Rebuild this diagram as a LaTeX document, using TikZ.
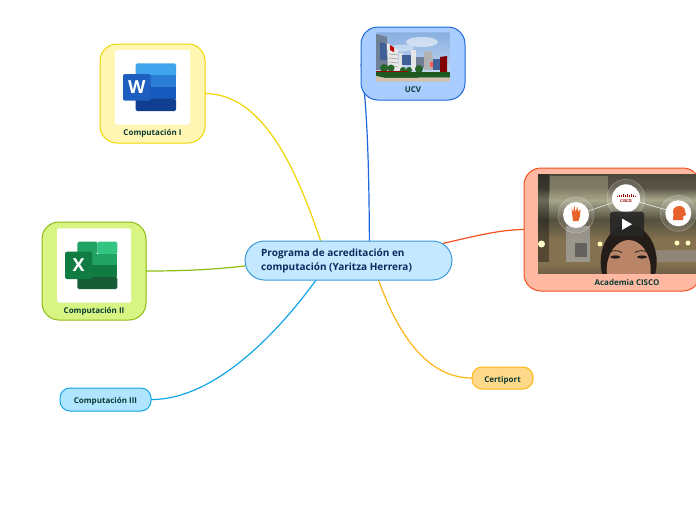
\documentclass[tikz,border=0pt]{standalone}
\usepackage{fontspec}
\setmainfont{Open Sans}
\usetikzlibrary{backgrounds}

\definecolor{rootfill}{HTML}{C3E8FF}
\definecolor{rootline}{HTML}{3C9AD6}
\definecolor{rootink}{HTML}{0D2A5E}
\definecolor{leafink}{HTML}{0B3B34}
\definecolor{wordfill}{HTML}{FFF6B3}
\definecolor{wordline}{HTML}{F0D400}
\definecolor{ucvfill}{HTML}{A9CDFF}
\definecolor{ucvline}{HTML}{1F68DC}
\definecolor{ciscofill}{HTML}{FFB9A3}
\definecolor{ciscoline}{HTML}{F4511E}
\definecolor{excelfill}{HTML}{D8F584}
\definecolor{excelline}{HTML}{8DBB10}
\definecolor{thirdfill}{HTML}{B0E5FF}
\definecolor{thirdline}{HTML}{10A5E8}
\definecolor{certfill}{HTML}{FFD98A}
\definecolor{certline}{HTML}{FDB515}
\definecolor{spot}{HTML}{E8622B}
\definecolor{skin}{HTML}{B98468}
\definecolor{hair}{HTML}{231C18}
\definecolor{vidtop}{HTML}{3F3A30}
\definecolor{vidband}{HTML}{5A5547}
\definecolor{vidlight}{HTML}{A8A78C}
\definecolor{vidmid}{HTML}{54503F}
\definecolor{vidwarm}{HTML}{84714F}
\definecolor{viddark}{HTML}{3E3A30}
\definecolor{vidfloor}{HTML}{66665C}
\definecolor{skytop}{HTML}{6F9CD6}
\definecolor{skymid}{HTML}{A9C6EA}
\definecolor{skylow}{HTML}{E4ECF6}
\definecolor{glass}{HTML}{3F5F96}
\definecolor{tower}{HTML}{6E7F96}

\pgfdeclareverticalshading{videobg}{100bp}{
  color(0bp)=(vidfloor); color(11bp)=(vidfloor); color(14bp)=(viddark);
  color(30bp)=(vidwarm); color(42bp)=(vidwarm); color(52bp)=(vidmid);
  color(62bp)=(vidlight); color(68bp)=(vidband); color(82bp)=(vidtop);
  color(100bp)=(vidtop)}
\pgfdeclareverticalshading{ucvsky}{100bp}{
  color(0bp)=(skylow); color(45bp)=(skymid); color(100bp)=(skytop)}

\tikzset{
  box/.style={draw, line width=1pt, inner sep=0pt, outer sep=0pt, rounded corners=17pt},
  leaflabel/.style={font=\bfseries\fontsize{8}{10}\selectfont, text=leafink, inner sep=0pt},
  link/.style={line width=1.2pt},
  blurlight/.style={circle, inner sep=0pt, fill=#1},
}

\begin{document}
\begin{tikzpicture}[x=1pt, y=-1pt]
    \useasboundingbox (0,0) rectangle (696,520);

    % boxes
    \node[box, fill=rootfill, draw=rootline, rounded corners=19.5pt,
      minimum width=207pt, minimum height=39pt] (root) at (348.5,260.5) {};
    \node[box, fill=wordfill, draw=wordline, minimum width=105pt, minimum height=99pt] (word) at (152.5,93.5) {};
    \node[box, fill=ucvfill, draw=ucvline, minimum width=104pt, minimum height=73pt] (ucv) at (413,63.5) {};
    \node[box, fill=ciscofill, draw=ciscoline, minimum width=176pt, minimum height=123pt] (cisco) at (612,229.5) {};
    \node[box, fill=excelfill, draw=excelline, minimum width=104pt, minimum height=98pt] (excel) at (94,271) {};
    \node[box, fill=thirdfill, draw=thirdline, rounded corners=10pt,
      minimum width=91pt, minimum height=23pt] (third) at (105.5,399.5) {};
    \node[box, fill=certfill, draw=certline, rounded corners=10pt,
      minimum width=61pt, minimum height=22pt] (cert) at (502.5,378) {};

    % labels
    \node[font=\bfseries\fontsize{10}{13.5}\selectfont, text=rootink, align=left, anchor=west, inner sep=0pt] (roottext) at (261,261)
      {Programa de acreditación en\\computación (Yaritza Herrera)};
    \node[leaflabel] (wordtext) at (152.5,133) {Computación I};
    \node[leaflabel] (ucvtext) at (413,90) {UCV};
    \node[leaflabel] (ciscotext) at (627,282) {Academia CISCO};
    \node[leaflabel] (exceltext) at (94,311) {Computación II};
    \node[leaflabel] (thirdtext) at (105.5,401) {Computación III};
    \node[leaflabel] (certtext) at (502.5,380) {Certiport};

    % connectors
    \begin{scope}[on background layer]
      \draw[link, draw=wordline] (root.145.6) .. controls (295,165) and (262,94) .. (word.east);
      \draw[link, draw=ucvline] (root.43.6) .. controls (369,180) and (368,110) .. (ucv.west);
      \draw[link, draw=ciscoline] (root.center) .. controls (440,249) and (480,230) .. (cisco.west);
      \draw[link, draw=excelline] (root.183) .. controls (210,270) and (180,271) .. (excel.east);
      \draw[link, draw=thirdline] (root.211) .. controls (265,350) and (205,400) .. (third.east);
      \draw[link, draw=certline] (root.-33.5) .. controls (400,340) and (430,378) .. (cert.west);
    \end{scope}

    % word icon
    \fill[white, rounded corners=2pt] (115,50) rectangle (190,124.5);
    \fill[fill={rgb,255:red,65;green,165;blue,238}, rounded corners=1.5pt] (135.7,63.3) rectangle (176,76);
    \fill[fill={rgb,255:red,43;green,124;blue,211}] (135.7,75.3) rectangle (176,87.2);
    \fill[fill={rgb,255:red,24;green,90;blue,189}] (135.7,87.2) rectangle (176,99.1);
    \fill[fill={rgb,255:red,16;green,63;blue,145}, rounded corners=1.5pt] (135.7,98.5) rectangle (176,111);
    \fill[fill={rgb,255:red,30;green,94;blue,190}, rounded corners=2pt] (123,74) rectangle (150.7,100.7);
    \node[font=\bfseries\fontsize{18}{18}\selectfont, text=white, inner sep=0pt] (wordmark) at (136.8,87.3) {W};

    % excel icon
    \fill[white, rounded corners=2pt] (57,228.3) rectangle (131,302.5);
    \fill[fill={rgb,255:red,33;green,163;blue,102}, rounded corners=1.5pt] (77.3,241.7) rectangle (97.5,254);
    \fill[fill={rgb,255:red,51;green,196;blue,129}, rounded corners=1.5pt] (97.3,241.7) rectangle (117.3,254);
    \fill[fill={rgb,255:red,33;green,163;blue,102}] (77.3,253.5) rectangle (117.3,265.3);
    \fill[fill={rgb,255:red,16;green,124;blue,65}] (77.3,265.3) rectangle (117.3,277.2);
    \fill[fill={rgb,255:red,24;green,92;blue,55}, rounded corners=1.5pt] (77.3,277) rectangle (117.3,289);
    \fill[fill={rgb,255:red,16;green,124;blue,65}, rounded corners=2pt] (65,251.7) rectangle (92.3,279);
    \node[font=\bfseries\fontsize{18}{18}\selectfont, text=white, inner sep=0pt] (excelmark) at (78.6,265) {X};

    % ucv photo
    \begin{scope}
      \clip[rounded corners=1pt] (376,32.3) rectangle (450,81.7);
      \shade[shading=ucvsky] (376,32.3) rectangle (450,72);
      \fill[white, opacity=.55] (422,42) ellipse (16pt and 5pt);
      \fill[white, opacity=.4] (402,48) ellipse (12pt and 3.5pt);
      % left towers
      \fill[tower] (376,34) -- (387,37) -- (389,70) -- (376,70) -- cycle;
      \fill[glass] (380,42) -- (386,44) -- (387,60) -- (380,60) -- cycle;
      \fill[white!82!gray] (387,43) -- (398,50) -- (399,70) -- (388,70) -- cycle;
      \fill[red!75!black] (390,45) -- (394,47.5) -- (394,52) -- (390,50) -- cycle;
      \foreach \by in {54,58,62,66}
        \draw[gray, line width=.4pt] (389,\by) -- (398,\by+1);
      \fill[white!78!gray] (399,53) rectangle (403,70);
      \fill[glass] (402,55) rectangle (411,65);
      \fill[white!80!gray] (411,50) rectangle (416,70);
      % right towers
      \fill[tower] (416,57) rectangle (424,68);
      \fill[gray!60] (424,52) -- (432,51) -- (434,70) -- (424,70) -- cycle;
      \fill[red!65!white] (430,62) rectangle (433,67);
      \fill[glass] (433,59) rectangle (440,70);
      \fill[red!50!black] (440,57) -- (447,56) -- (447,72) -- (440,72) -- cycle;
      \fill[green!35!black!70!gray] (384,68) circle (4pt) (391,68) circle (3.5pt) (403,70) circle (3pt) (409,70) circle (3pt) (419,69) circle (4pt);
      \fill[red!60!black] (376,71) rectangle (408,72.8);
      \fill[green!30!black!75!gray] (376,72) -- (450,72) -- (450,77.5) -- (385,78) -- (376,76) -- cycle;
      \fill[orange!30!gray!50!white] (376,76) -- (385,78) -- (450,77.5) -- (450,81.7) -- (376,81.7) -- cycle;
    \end{scope}

    % cisco video
    \begin{scope}
      \clip (538,174) rectangle (696,273.3);
      \shade[shading=videobg] (538,174) rectangle (696,273.3);
      \fill[gray!80!yellow, opacity=.5] (550,176) rectangle (608,198);
      \fill[black, opacity=.35] (538,174) rectangle (549,262);
      \fill[gray!70!white, opacity=.7] (566,226) rectangle (590,262);
      \fill[black!70, opacity=.7] (575,243) rectangle (587,257);
      \fill[black!40, opacity=.5] (655,250) rectangle (696,262);
      \node[blurlight=white!80!yellow, minimum size=7pt] (glowa) at (541.5,244) {};
      \node[blurlight=yellow!30!white, minimum size=5pt] (glowb) at (600,244) {};
      \node[blurlight=yellow!25!white, minimum size=5pt] (glowc) at (677,243) {};
      \node[blurlight=yellow!25!white, minimum size=5pt] (glowd) at (688,243) {};
      % links between the circles
      \draw[white!85!gray, line width=.6pt] (576,215) -- (626,198.3) -- (678.3,213.3);
      \draw[white, opacity=.35] (576,215) circle (18pt) (626,198.3) circle (19pt) (678.3,213.3) circle (18pt);
      \fill[white, opacity=.12] (576,215) circle (18pt) (626,198.3) circle (19pt) (678.3,213.3) circle (18pt);
      \fill[white] (576,215) circle (13pt) (626,198.3) circle (14pt) (678.3,213.3) circle (13pt);
      % hand and head
      \fill[spot] (572,213) -- (571.5,207) -- (573,212) -- (574.5,206) -- (575.5,212) -- (577.5,206.5) -- (578,212)
        -- (580.5,209) -- (580,216) -- (578.5,221) -- (573,221) -- cycle;
      \fill[spot] (673,220) -- (673.5,214) .. controls (670,205) and (685,203) .. (685,211) -- (686,215) -- (683.5,216) -- (683,220) -- cycle;
      \node[font=\bfseries\fontsize{4}{4}\selectfont, text=red!60!black, inner sep=0pt] (ciscomark) at (626,201.5) {CISCO};
      \foreach \bx/\bh in {617/1,619/2,621/1.5,623/3,625/1.5,627/3,629/1.5,631/3,633/2,635/1}
        \draw[red!60!black, line width=.4pt] (\bx,196.5-\bh) -- (\bx,196.5);
      % face
      \fill[hair] (628.7,262) ellipse (28pt and 37pt);
      \fill[skin] (628.7,270) ellipse (22pt and 30pt);
      \fill[hair] (615.3,257) ellipse (5pt and 1.6pt) (642,257) ellipse (5pt and 1.6pt);
      \draw[hair, line width=.8pt] (609,252.5) .. controls (613,250) and (618,250) .. (622,252.5);
      \draw[hair, line width=.8pt] (635,252.5) .. controls (639,250) and (644,250) .. (648,252.5);
    \end{scope}

    % play button
    \fill[black!85, opacity=.9, rounded corners=3pt] (610,211.7) rectangle (644,236);
    \fill[white] (622,218.5) -- (622,230) -- (632,224.2) -- cycle;
\end{tikzpicture}
\end{document}
